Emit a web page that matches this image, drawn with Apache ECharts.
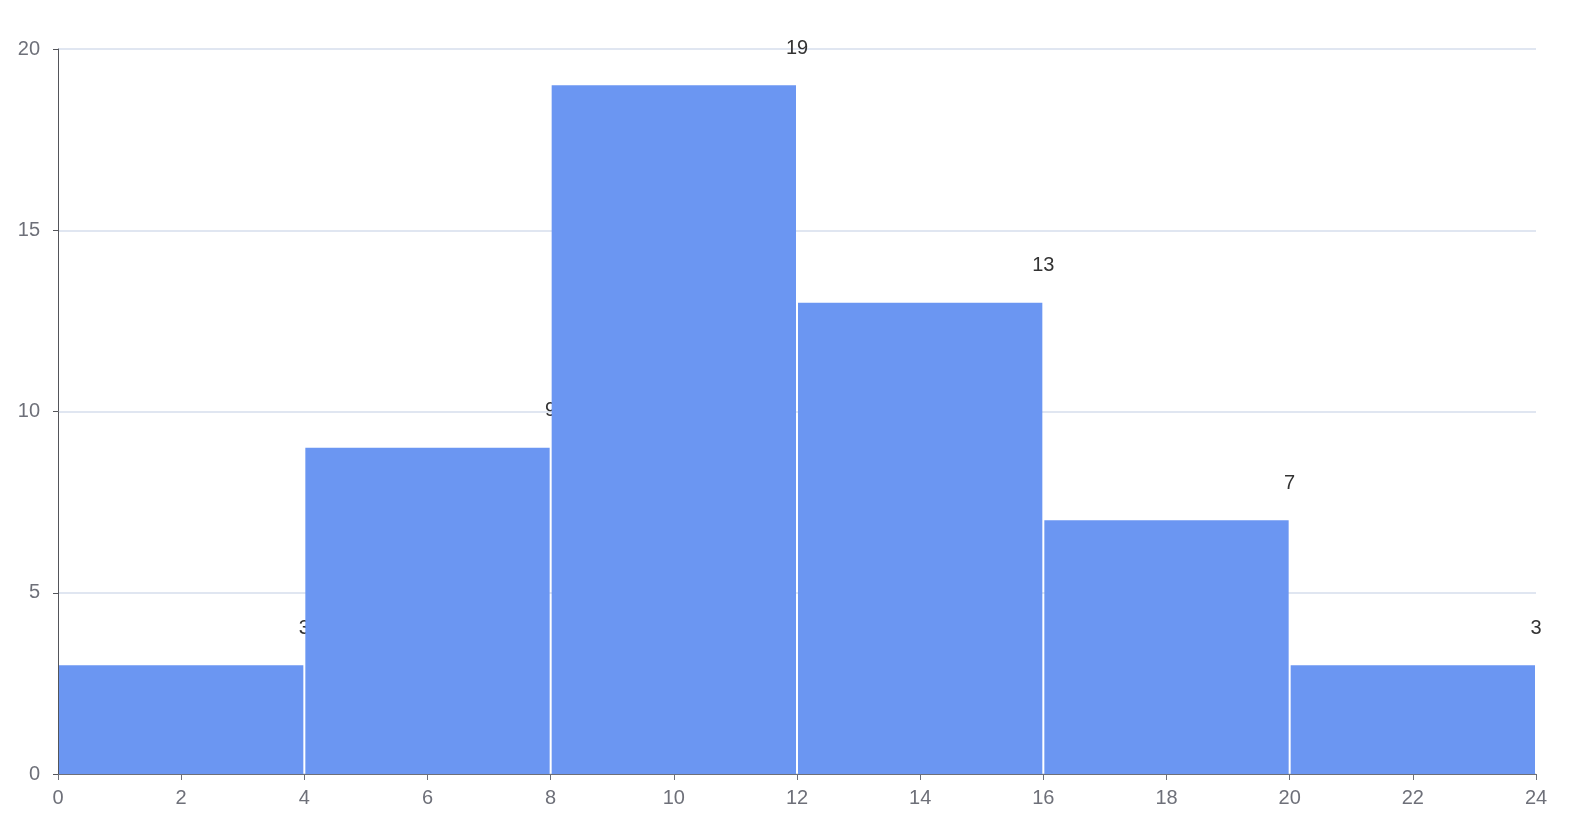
<!DOCTYPE html>
<html><head><meta charset="utf-8">
<script src="https://cdn.jsdelivr.net/npm/echarts@6/dist/echarts.min.js"></script>
<style>html,body{margin:0;padding:0;background:#fff}#c{width:1588px;height:830px}</style>
</head><body><div id="c"></div>
<script>
const binStarts = [0, 4, 8, 12, 16, 20];
const binEnds = [4, 8, 12, 16, 20, 24];
const counts = [3, 9, 19, 13, 7, 3];
const data = binStarts.map((s, i) => [s, binEnds[i], counts[i]]);
const chart = echarts.init(document.getElementById('c'));
chart.setOption({
  animation: false,
  grid: { left: 58, right: 52, top: 49, bottom: 56 },
  xAxis: { type: 'value', min: 0, max: 24, interval: 2, splitLine: { show: false },
    axisLine: { lineStyle: { color: '#6e7079' } }, axisTick: { show: true, length: 6 },
    axisLabel: { fontSize: 20, color: '#6e7079', margin: 14, fontFamily: 'Helvetica, Arial, sans-serif' } },
  yAxis: { type: 'value', min: 0, max: 20, interval: 5,
    splitLine: { lineStyle: { color: '#e0e6f1', width: 2 } },
    axisLabel: { fontSize: 20, color: '#6e7079', margin: 18, fontFamily: 'Helvetica, Arial, sans-serif' } },
  series: [{
    type: 'custom',
    data: data,
    encode: { x: [0, 1], y: 2 },
    renderItem: function (params, api) {
      const p0 = api.coord([api.value(0), api.value(2)]);
      const p1 = api.coord([api.value(1), 0]);
      return { type: 'group', children: [
        { type: 'rect', shape: { x: p0[0] + 1, y: p0[1], width: p1[0] - p0[0] - 2, height: p1[1] - p0[1] },
          style: { fill: '#6b96f2' } },
        { type: 'text', style: { text: String(api.value(2)), x: p1[0], y: p0[1] - 37, align: 'center', verticalAlign: 'middle',
          fontSize: 20, fill: '#333', fontFamily: 'Helvetica, Arial, sans-serif' } }
      ] };
    }
  }]
});
</script></body></html>
